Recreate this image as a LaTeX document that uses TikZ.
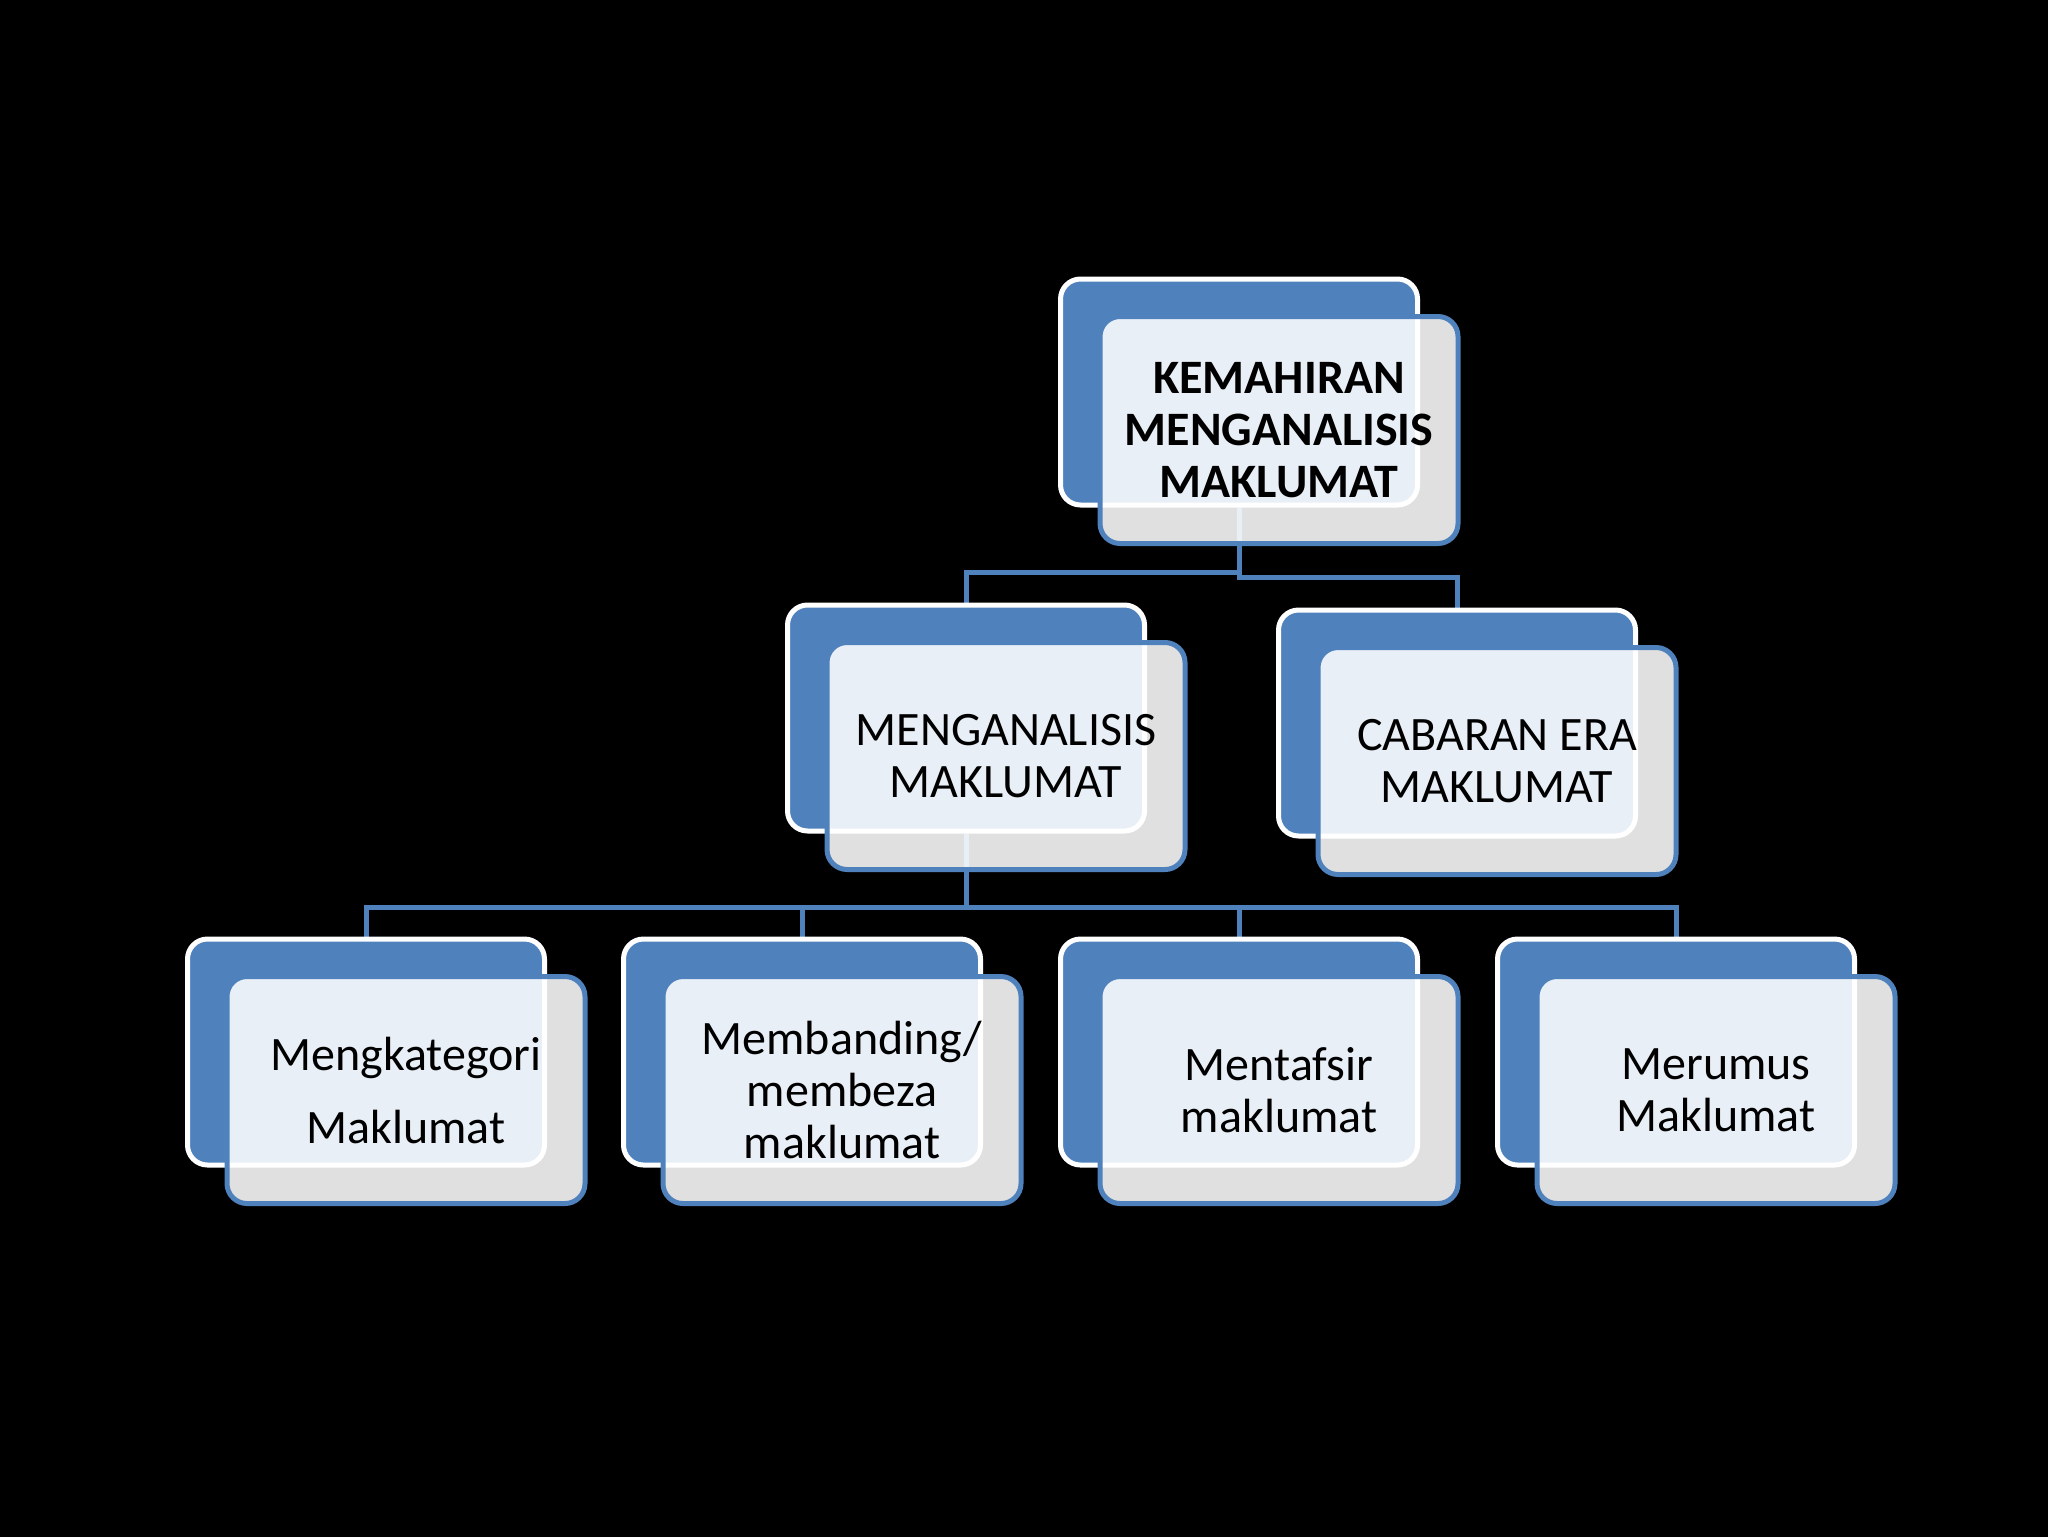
\documentclass[tikz,border=0pt]{standalone}
\usepackage{fontspec}
\setmainfont{Carlito}
\usetikzlibrary{backgrounds}
\definecolor{obl}{RGB}{79,129,189}
\begin{document}
\begin{tikzpicture}[x=0.5pt,y=-0.5pt,
  backbox/.style={draw=white, line width=2.5pt, fill=obl, rounded corners=10pt,
    minimum width=178.5pt, minimum height=113pt, inner sep=0pt},
  frontbox/.style={draw=obl, line width=2.5pt, fill=white, fill opacity=0.88,
    text opacity=1, rounded corners=10pt, minimum width=179pt,
    minimum height=113.5pt, inner sep=0pt, align=center,
    font=\fontsize{24}{26}\selectfont, text=black},
  conn/.style={draw=obl, line width=2.5pt}]
\useasboundingbox (0,0) rectangle (2048,1536);
% top
\node[backbox] (topB) at (1239,392) {};
\node[frontbox, font=\fontsize{24}{26}\selectfont\bfseries] (topF) at (1279,430)
  {KEMAHIRAN\\MENGANALISIS\\MAKLUMAT};
% middle
\node[backbox] (midLB) at (966,718) {};
\node[frontbox] (midLF) at (1006,756) {MENGANALISIS\\MAKLUMAT};
\node[backbox] (midRB) at (1457,723) {};
\node[frontbox] (midRF) at (1497,761) {CABARAN ERA\\MAKLUMAT};
% bottom
\node[backbox] (b1B) at (366,1052) {};
\node[frontbox, font=\fontsize{24}{36.5}\selectfont] (b1F) at (406,1090) {Mengkategori\\Maklumat};
\node[backbox] (b2B) at (802,1052) {};
\node[frontbox] (b2F) at (842,1090) {Membanding/\\membeza\\maklumat};
\node[backbox] (b3B) at (1239,1052) {};
\node[frontbox] (b3F) at (1279,1090) {Mentafsir\\maklumat};
\node[backbox] (b4B) at (1676,1052) {};
\node[frontbox] (b4F) at (1716,1090) {Merumus\\Maklumat};
\begin{pgfonlayer}{background}
\fill[black] (-20,-20) rectangle (2068,1556);
\coordinate (j1) at (1239,572);
\coordinate (j1r) at (1239,577);
\coordinate (j2) at (966,907);
\draw[conn] (topB.south) -- (topB.south |- j1) -| (midLB.north);
\draw[conn] (topB.south) -- (topB.south |- j1r) -| (midRB.north);
\draw[conn] (midLB.south) -- (midLB.south |- j2) -| (b1B.north);
\draw[conn] (midLB.south) -- (midLB.south |- j2) -| (b2B.north);
\draw[conn] (midLB.south) -- (midLB.south |- j2) -| (b3B.north);
\draw[conn] (midLB.south) -- (midLB.south |- j2) -| (b4B.north);
\end{pgfonlayer}
\end{tikzpicture}
\end{document}
